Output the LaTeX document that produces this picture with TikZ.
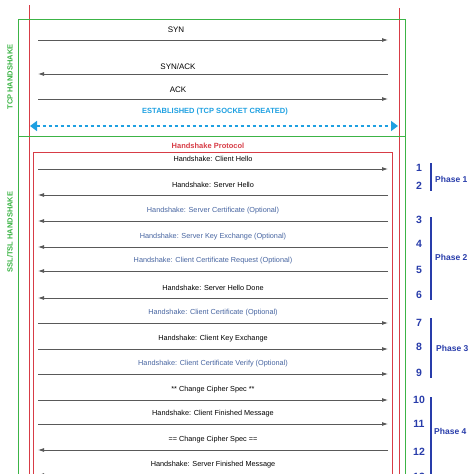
\documentclass[tikz,border=0pt]{standalone}
\usepackage{fontspec}
\setmainfont{Liberation Sans}
\usetikzlibrary{arrows.meta}
\definecolor{gr}{RGB}{60,180,70}
\definecolor{rd}{RGB}{215,60,70}
\definecolor{bl}{RGB}{40,60,170}
\definecolor{lb}{RGB}{70,100,160}
\definecolor{cy}{RGB}{30,160,225}
\begin{document}
\begin{tikzpicture}[x=1pt,y=-1pt,
 msg/.style={draw=black!65,line width=0.8pt,-{Latex[length=6pt,width=4pt]}},
 lab/.style={font=\fontsize{7.3}{8}\selectfont,inner sep=0pt},
 blab/.style={lab,text=lb},
 num/.style={font=\bfseries\fontsize{10.5}{11}\selectfont,text=bl,inner sep=0pt},
 ph/.style={font=\bfseries\fontsize{8.5}{9}\selectfont,text=bl,inner sep=0pt,anchor=west},
 bar/.style={draw=bl,line width=1.6pt},
 side/.style={font=\bfseries\fontsize{7.5}{8}\selectfont,text=gr,rotate=90}]
\useasboundingbox (0,0) rectangle (474,474);
\begin{scope}
\clip (0,0) rectangle (474,474);
\draw[rd,line width=0.8pt] (29,5) -- (29,480) (399,8) -- (399,480);
\draw[gr,line width=1pt] (18,19) rectangle (405,136);
\draw[gr,line width=1pt] (18,136) rectangle (405,490);
\draw[rd,line width=0.6pt] (33,152) rectangle (392,490);
\node[side] (tcp) at (10,77) {TCP HANDSHAKE};
\node[side] (ssl) at (10,232) {SSL/TSL HANDSHAKE};
\node[font=\bfseries\fontsize{7.5}{8}\selectfont,text=rd] (hp) at (208,146) {Handshake Protocol};
% TCP
\foreach \n/\y in {c/40,d/74,e/99}{\coordinate (L\n) at (38,\y);\coordinate (R\n) at (388,\y);}
\node[lab,font=\fontsize{8}{9}\selectfont] at (176,30) {SYN};
\draw[msg] (Lc) -- (Rc);
\node[lab,font=\fontsize{8}{9}\selectfont] at (178,67) {SYN/ACK};
\draw[msg] (Rd) -- (Ld);
\node[lab,font=\fontsize{8}{9}\selectfont] at (178,90) {ACK};
\draw[msg] (Le) -- (Re);
\node[font=\bfseries\fontsize{7.5}{8}\selectfont,text=cy,inner sep=0pt] at (215,112) {ESTABLISHED (TCP SOCKET CREATED)};
\coordinate (EL) at (30,126); \coordinate (ER) at (398,126);
\draw[cy,line width=2.5pt,dash pattern=on 3pt off 3pt,{Triangle[length=7pt,width=10pt]}-{Triangle[length=7pt,width=10pt]}] (EL) -- (ER);
% SSL messages
\foreach \i/\y/\d/\s/\t in {
 1/169/r/lab/{Handshake: Client Hello},
 2/195/l/lab/{Handshake: Server Hello},
 3/221/l/blab/{Handshake: Server Certificate (Optional)},
 4/247/l/blab/{Handshake: Server Key Exchange (Optional)},
 5/271/l/blab/{Handshake: Client Certificate Request (Optional)},
 6/298/l/lab/{Handshake: Server Hello Done},
 7/323/r/blab/{Handshake: Client Certificate (Optional)},
 8/349/r/lab/{Handshake: Client Key Exchange},
 9/374/r/blab/{Handshake: Client Certificate Verify (Optional)},
 10/400/r/lab/{** Change Cipher Spec **},
 11/424/r/lab/{Handshake: Client Finished Message},
 12/450/l/lab/{== Change Cipher Spec ==},
 13/475/l/lab/{Handshake: Server Finished Message}}{
 \coordinate (a\i) at (38,\y); \coordinate (b\i) at (388,\y);
 \node[\s] (m\i) at (213,\y-10) {\t};
 \if\d r \draw[msg] (a\i) -- (b\i); \else \draw[msg] (b\i) -- (a\i); \fi
}
% numbers
\foreach \i/\y in {1/168,2/186,3/220,4/244,5/270,6/295,7/323,8/347,9/373,10/400,11/424,12/452,13/477}
 \node[num] (n\i) at (419,\y) {\i};
\draw[bar] (431,163) -- (431,191);
\node[ph] (p1) at (435,179) {Phase 1};
\draw[bar] (431,217) -- (431,300);
\node[ph] (p2) at (435,257) {Phase 2};
\draw[bar] (431,318) -- (431,378);
\node[ph] (p3) at (436,348) {Phase 3};
\draw[bar] (431,397) -- (431,480);
\node[ph] (p4) at (434,431) {Phase 4};
\end{scope}
\end{tikzpicture}
\end{document}
